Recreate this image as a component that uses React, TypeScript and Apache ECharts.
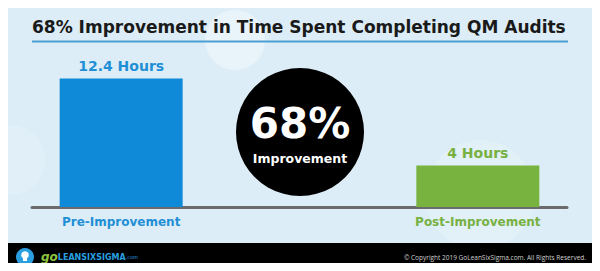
import React, { useEffect, useRef } from "react";
import * as echarts from "echarts";

// Hours spent completing a QM audit, before and after the improvement
const categories = ["Pre-Improvement", "", "Post-Improvement"];
const hours = [12.4, null, 4];
const valueLabels = ["12.4 Hours", "", "4 Hours"];
const categoryColors = ["#1f8fd6", "#1f8fd6", "#77b142"];
const improvementPct = "68%";

const FONT = "'DejaVu Sans', 'Open Sans', sans-serif";
const SMALL_FONT = "'Open Sans', 'Noto Sans', sans-serif";

export default function App() {
  const ref = useRef<HTMLDivElement>(null);

  useEffect(() => {
    if (!ref.current) return;
    const chart = echarts.init(ref.current, undefined, { renderer: "svg" });

    const barData = hours.map((v, i) => ({
      value: v,
      itemStyle: { color: i === 0 ? "#0e8ad8" : "#78b33f" },
      label: { color: categoryColors[i] },
    }));

    chart.setOption({
      animation: false,
      backgroundColor: "#dcedf7",
      grid: { left: 32, right: 33, top: 62, bottom: 64 },
      xAxis: {
        type: "category",
        data: categories,
        axisLine: { show: true, lineStyle: { color: "#6b6b6b", width: 3 } },
        axisTick: { show: false },
        axisLabel: {
          margin: 9,
          fontFamily: FONT,
          fontWeight: "bold",
          fontSize: 12,
          color: (_v: string, i: number) => categoryColors[i],
        },
      },
      yAxis: {
        type: "value",
        min: 0,
        max: 14,
        show: false,
        splitLine: { show: false },
      },
      series: [
        {
          type: "bar",
          data: barData,
          barWidth: 123,
          z: 1,
          label: {
            show: true,
            position: "top",
            distance: 6,
            fontFamily: FONT,
            fontWeight: "bold",
            fontSize: 14,
            formatter: (p: any) => valueLabels[p.dataIndex],
          },
        },
      ],
      graphic: [
        // faint watermark shapes in the background
        { type: "circle", z: -10, shape: { cx: 235, cy: 40, r: 30 }, style: { fill: "rgba(255,255,255,0.35)" }, silent: true },
        { type: "circle", z: -10, shape: { cx: 480, cy: 195, r: 55 }, style: { fill: "rgba(255,255,255,0.18)" }, silent: true },
        { type: "circle", z: -10, shape: { cx: 10, cy: 160, r: 35 }, style: { fill: "rgba(255,255,255,0.15)" }, silent: true },
        // title and its underline
        {
          type: "text",
          x: 32,
          y: 27,
          style: {
            text: "68% Improvement in Time Spent Completing QM Audits",
            font: `bold 17px ${FONT}`,
            fill: "#1a1a1a",
            verticalAlign: "middle",
          },
        },
        {
          type: "line",
          shape: { x1: 32, y1: 41.5, x2: 568, y2: 41.5 },
          style: { stroke: "#4a9fd4", lineWidth: 2 },
        },
        // improvement badge
        {
          type: "circle",
          shape: { cx: 300, cy: 132, r: 64 },
          style: { fill: "#000000" },
        },
        {
          type: "text",
          x: 300,
          y: 123,
          style: {
            text: improvementPct,
            font: `bold 42px ${FONT}`,
            fill: "#ffffff",
            align: "center",
            verticalAlign: "middle",
          },
        },
        {
          type: "text",
          x: 300,
          y: 158,
          style: {
            text: "Improvement",
            font: `bold 12.5px ${FONT}`,
            fill: "#ffffff",
            align: "center",
            verticalAlign: "middle",
          },
        },
        // footer band
        {
          type: "rect",
          shape: { x: 0, y: 243, width: 600, height: 28 },
          style: { fill: "#000000" },
        },
        {
          type: "circle",
          shape: { cx: 25, cy: 257, r: 9 },
          style: { fill: "#2a9fe0" },
        },
        {
          type: "circle",
          shape: { cx: 25, cy: 255, r: 3.8 },
          style: { fill: "#ffffff" },
        },
        {
          type: "rect",
          shape: { x: 23, y: 257, width: 4, height: 4 },
          style: { fill: "#ffffff" },
        },
        {
          type: "text",
          x: 41,
          y: 257,
          style: {
            text: "{go|go}{lean|LEANSIXSIGMA}{com|.com}",
            verticalAlign: "middle",
            rich: {
              go: { font: `italic bold 12px ${FONT}`, fill: "#8dc63f" },
              lean: { font: `bold 8px ${FONT}`, fill: "#2a9fe0" },
              com: { font: `5px ${FONT}`, fill: "#2a9fe0" },
            },
          },
        },
        {
          type: "text",
          x: 586,
          y: 257,
          style: {
            text: "© Copyright 2019 GoLeanSixSigma.com. All Rights Reserved.",
            font: `6.5px ${SMALL_FONT}`,
            fill: "#d0d0d0",
            align: "right",
            verticalAlign: "middle",
          },
        },
      ],
    });

    return () => chart.dispose();
  }, []);

  return <div ref={ref} style={{ width: 600, height: 271, margin: -8 }} />;
}
